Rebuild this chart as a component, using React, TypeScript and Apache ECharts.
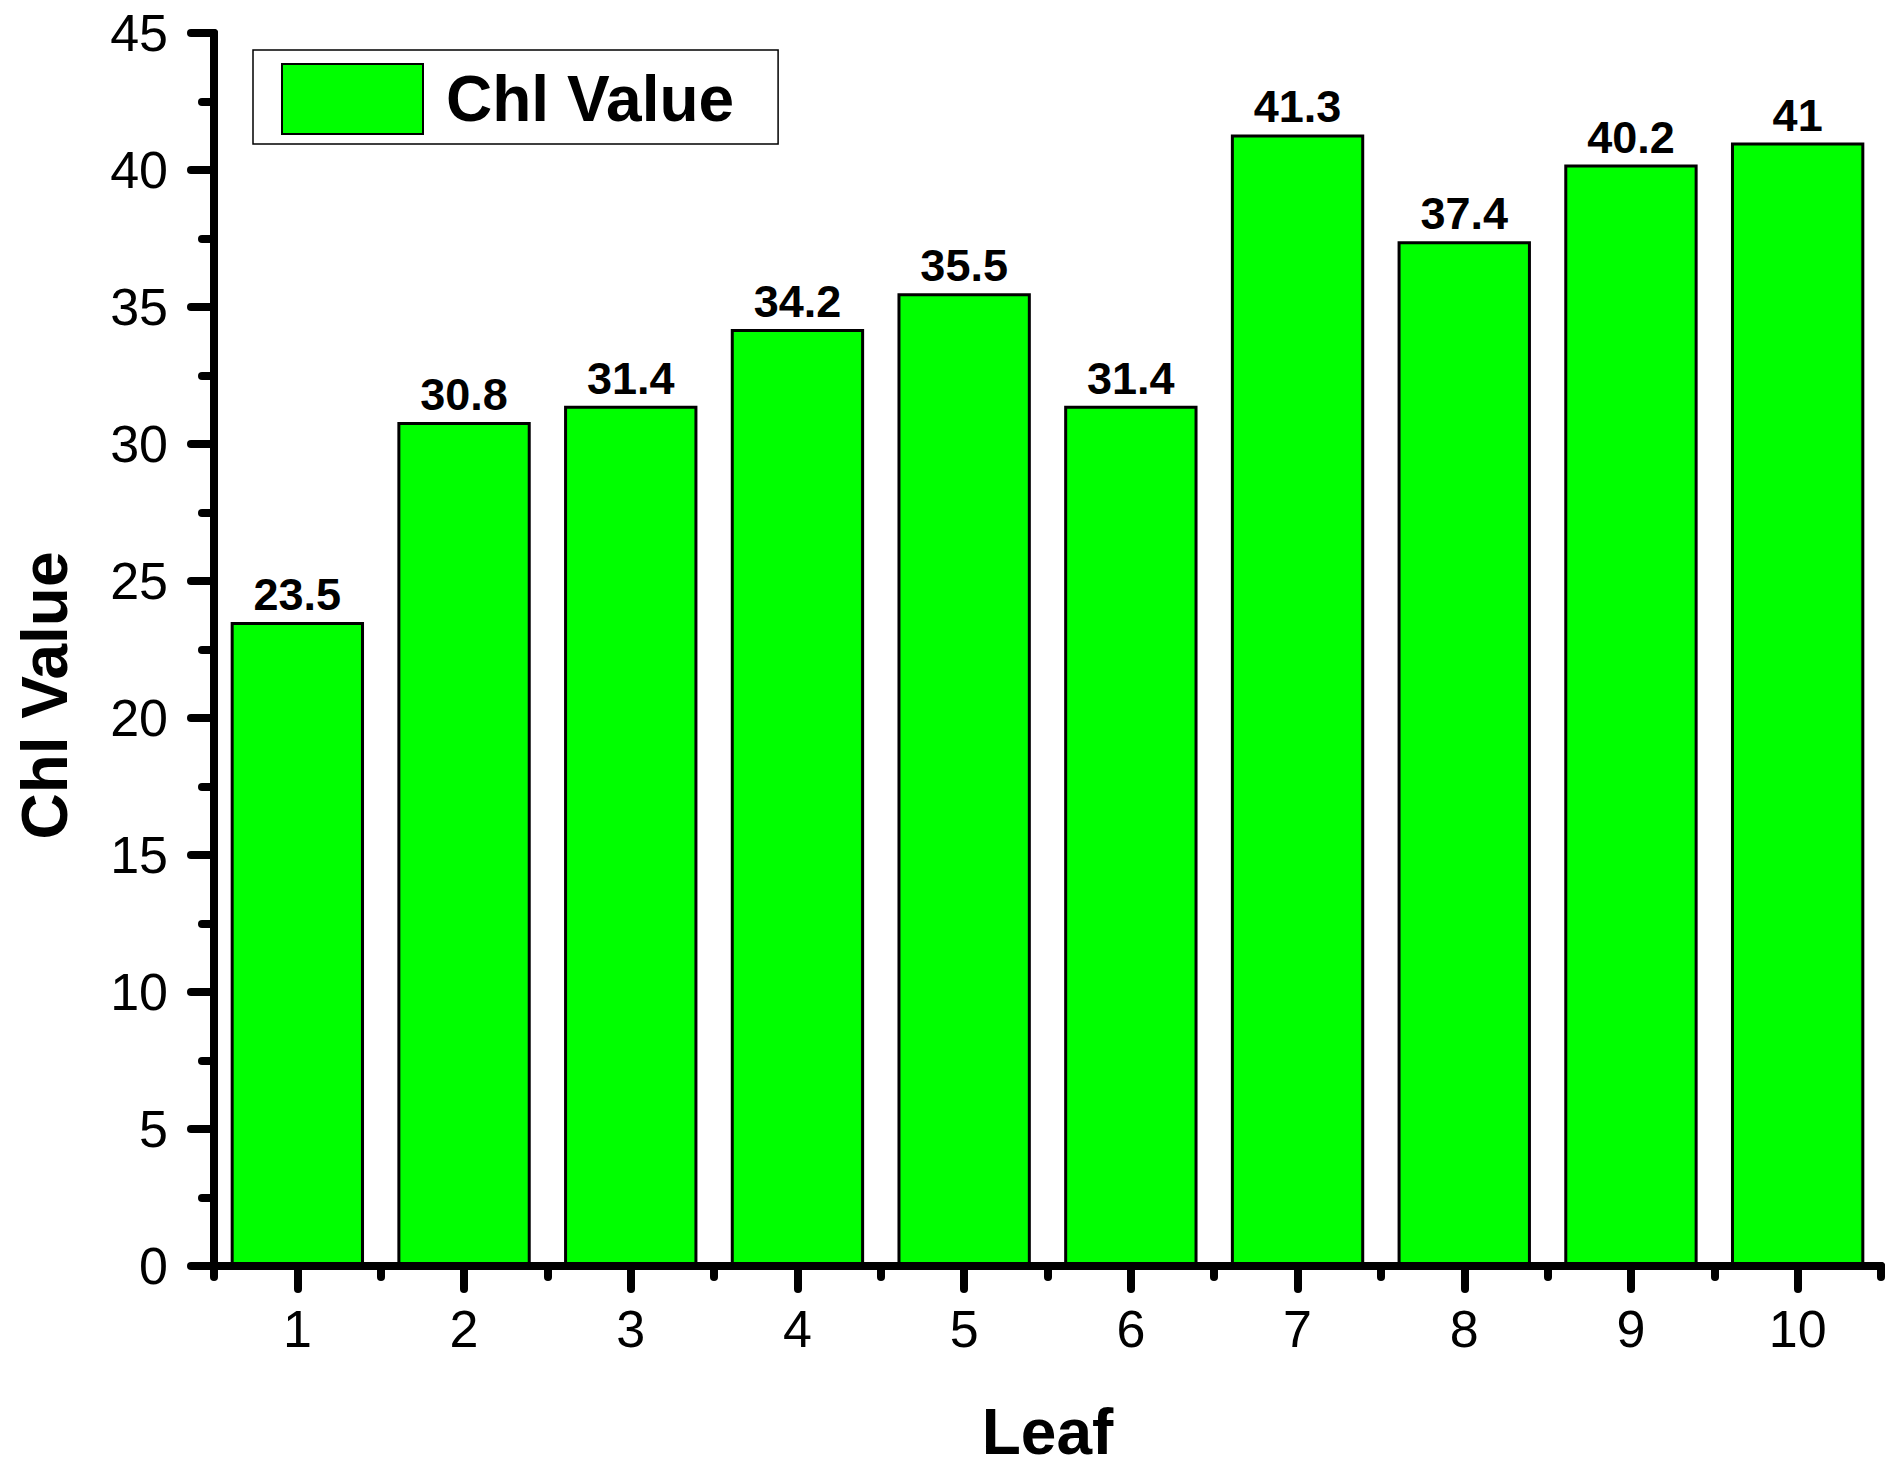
import React, { useEffect, useRef } from "react";
import * as echarts from "echarts";

const categories = ["1", "2", "3", "4", "5", "6", "7", "8", "9", "10"];
const chlValues = [23.5, 30.8, 31.4, 34.2, 35.5, 31.4, 41.3, 37.4, 40.2, 41];
const seriesName = "Chl Value";
const xTitle = "Leaf";
const yTitle = "Chl Value";
const yMin = 0;
const yMax = 45;
const yInterval = 5;

const FONT = "'Liberation Sans', Arial, sans-serif";

export default function App() {
  const ref = useRef<HTMLDivElement>(null);

  useEffect(() => {
    if (!ref.current) return;
    const chart = echarts.init(ref.current, undefined, { renderer: "svg" });
    const axisLineStyle = { color: "#000", width: 8 };
    chart.setOption({
      animation: false,
      backgroundColor: "#fff",
      textStyle: { fontFamily: FONT, color: "#000" },
      grid: { left: 214, right: 18, top: 33, bottom: 207, containLabel: false },
      legend: {
        data: [seriesName],
        left: 253,
        top: 50,
        orient: "horizontal",
        icon: "rect",
        itemWidth: 141,
        itemHeight: 70,
        padding: [13, 44, 9, 28],
        borderColor: "#000",
        borderWidth: 1.5,
        backgroundColor: "#fff",
        textStyle: {
          fontFamily: FONT,
          fontSize: 64,
          fontWeight: "bold",
          color: "#000",
          padding: [0, 0, 0, 18],
        },
      },
      xAxis: [
        {
          type: "category",
          data: categories,
          boundaryGap: true,
          z: 5,
          name: xTitle,
          nameLocation: "middle",
          nameGap: 134,
          nameTextStyle: { fontFamily: FONT, fontSize: 64, fontWeight: "bold", color: "#000" },
          axisLine: { show: true, lineStyle: axisLineStyle },
          axisTick: {
            show: true,
            alignWithLabel: false,
            interval: 0,
            length: 11,
            lineStyle: { color: "#000", width: 8, cap: "round" },
          },
          axisLabel: {
            show: true,
            interval: 0,
            margin: 37,
            fontFamily: FONT,
            fontSize: 52,
            color: "#000",
          },
          splitLine: { show: false },
        },
        {
          type: "category",
          data: categories,
          boundaryGap: true,
          position: "bottom",
          z: 5,
          axisLine: { show: false },
          axisTick: {
            show: true,
            alignWithLabel: true,
            interval: 0,
            length: 23,
            lineStyle: { color: "#000", width: 8, cap: "round" },
          },
          axisLabel: { show: false },
          splitLine: { show: false },
        },
      ],
      yAxis: {
        type: "value",
        min: yMin,
        max: yMax,
        interval: yInterval,
        z: 5,
        name: yTitle,
        nameLocation: "middle",
        nameGap: 137,
        nameRotate: 90,
        nameTextStyle: {
          fontFamily: FONT,
          fontSize: 64,
          fontWeight: "bold",
          color: "#000",
          padding: [0, 92, 0, 0],
        },
        axisLine: { show: true, lineStyle: axisLineStyle },
        axisTick: {
          show: true,
          length: 23,
          lineStyle: { color: "#000", width: 8, cap: "round" },
        },
        minorTick: {
          show: true,
          splitNumber: 2,
          length: 12,
          lineStyle: { color: "#000", width: 8, cap: "round" },
        },
        axisLabel: {
          margin: 46,
          fontFamily: FONT,
          fontSize: 52,
          color: "#000",
        },
        splitLine: { show: false },
      },
      series: [
        {
          name: seriesName,
          type: "bar",
          xAxisIndex: 0,
          data: chlValues,
          barCategoryGap: "20%",
          itemStyle: { color: "#00ff00", borderColor: "#000", borderWidth: 3 },
          label: {
            show: true,
            position: "top",
            distance: 5,
            fontFamily: FONT,
            fontSize: 45,
            fontWeight: "bold",
            color: "#000",
          },
        },
      ],
    });
    return () => chart.dispose();
  }, []);

  return (
    <div
      ref={ref}
      style={{ position: "fixed", left: 0, top: 0, width: 1899, height: 1473, background: "#fff" }}
    />
  );
}
